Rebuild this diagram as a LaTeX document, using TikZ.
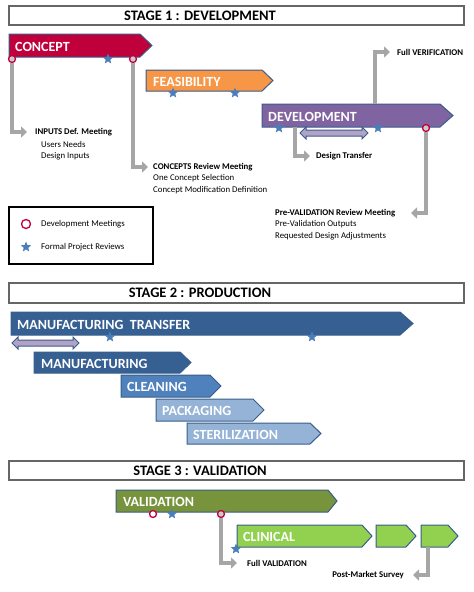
\documentclass[tikz,border=0pt]{standalone}
\usepackage{fontspec}
\setmainfont{Carlito}
\usetikzlibrary{shapes.geometric,shapes.arrows,arrows.meta}
\definecolor{bordblue}{HTML}{385D8A}
\definecolor{conceptred}{HTML}{C0003A}
\definecolor{feasorange}{HTML}{F79646}
\definecolor{devpurple}{HTML}{8064A2}
\definecolor{lightpurple}{HTML}{B3A2C7}
\definecolor{darkblue}{HTML}{376092}
\definecolor{midblue}{HTML}{4F81BD}
\definecolor{paleblue}{HTML}{95B3D7}
\definecolor{olivegreen}{HTML}{77933C}
\definecolor{lightgreen}{HTML}{92D050}
\definecolor{arrowgray}{HTML}{A6A6A6}
\definecolor{meetred}{HTML}{C00040}
\definecolor{starblue}{HTML}{4A7EBB}
\tikzset{
  stagebox/.style={draw=gray!80!black, line width=2pt},
  stagetext/.style={font=\bfseries\fontsize{14.5}{16}\selectfont},
  phasebox/.style={draw=bordblue, line width=1pt},
  phasetext/.style={anchor=west, text=white, inner sep=0pt, font=\bfseries\fontsize{14}{16}\selectfont},
  meeting/.style={circle, draw=meetred, line width=1.3pt, fill=arrowgray!60, minimum size=7pt, inner sep=0pt},
  review/.style={star, star points=5, star point ratio=2.3, fill=starblue, minimum size=11pt, inner sep=0pt},
  grayarrow/.style={draw=arrowgray, line width=4pt, -{Triangle[length=6pt,width=11pt]}},
  headtext/.style={anchor=west, inner sep=0pt, font=\bfseries\fontsize{8.8}{10}\selectfont},
  subtext/.style={anchor=west, inner sep=0pt, font=\fontsize{8.8}{10}\selectfont},
  transfer/.style={double arrow, draw=bordblue, fill=lightpurple, line width=1pt, inner xsep=0pt, inner ysep=2.5pt, double arrow head extend=3pt}
}
% phase bar: fill, left x, top y, tip start x, tip x, bottom y
\newcommand{\phasebar}[6]{\draw[phasebox,fill=#1] (#2,#3) -- (#4,#3) -- (#5,{(#3+#6)/2}) -- (#4,#6) -- (#2,#6) -- cycle;}
\begin{document}
\begin{tikzpicture}[x=1pt,y=-1pt]
\useasboundingbox (0,0) rectangle (474,592);

% stage 1 heading
\draw[stagebox] (9,6) rectangle (464,25);
\node[stagetext] (stage1) at (200,15.5) {STAGE 1 : DEVELOPMENT};

% phases of stage 1
\phasebar{conceptred}{9}{34}{140}{152}{57}
\node[phasetext] (concept) at (15,46.5) {CONCEPT};
\phasebar{feasorange}{146}{70}{262}{273}{91}
\node[phasetext] (feas) at (153,81.5) {FEASIBILITY};
\phasebar{devpurple}{262}{104}{440}{453}{127}
\node[phasetext] (devel) at (268,116.5) {DEVELOPMENT};

% meetings and reviews
\node[meeting] (m1) at (12,59) {};
\node[meeting] (m2) at (133,59) {};
\node[review] (r1) at (108,59) {};
\node[review] (r2) at (173,93) {};
\node[review] (r3) at (235,93) {};
\node[review] (r4) at (279,128) {};
\node[review] (r5) at (378,128) {};
\node[meeting] (m3) at (426,128) {};

% outputs of stage 1
\node[headtext] (inputs) at (35,132) {INPUTS Def. Meeting};
\node[subtext] (users) at (41,144) {Users Needs};
\node[subtext] (dinputs) at (41,156) {Design Inputs};
\node[headtext] (concrev) at (153,167) {CONCEPTS Review Meeting};
\node[subtext] (onesel) at (153,178) {One Concept Selection};
\node[subtext] (moddef) at (153,190) {Concept Modification Definition};
\node[headtext] (fullver) at (397,52) {Full VERIFICATION};
\node[headtext] (dtransfer) at (316,156) {Design Transfer};
\node[headtext] (prevalid) at (275,213) {Pre-VALIDATION Review Meeting};
\node[subtext] (preout) at (275,224.5) {Pre-Validation Outputs};
\node[subtext] (adjust) at (275,236) {Requested Design Adjustments};

\coordinate (dvtop) at (375,104);
\coordinate (dvbot) at (295,127);
\coordinate (prevend) at (411,213);
\draw[grayarrow, shorten >=8pt] (m1.south) |- (inputs.west);
\draw[grayarrow, shorten >=5pt] (m2.south) |- (concrev.west);
\draw[grayarrow, shorten >=7pt] (dvtop) |- (fullver.west);
\draw[grayarrow, shorten >=6pt] (dvbot) |- (dtransfer.west);
\draw[grayarrow] (m3.south) |- (prevend);
\node[transfer, minimum height=68pt] (dtarrow) at (334,133) {};

% legend
\draw[line width=2pt] (9,207) rectangle (153,264);
\node[meeting, fill=white, minimum size=9pt] (legm) at (26,224) {};
\node[subtext] (legmtext) at (41,224) {Development Meetings};
\node[review] (legr) at (26,247) {};
\node[subtext] (legrtext) at (41,247) {Formal Project Reviews};

% stage 2 heading
\draw[stagebox] (9,283) rectangle (464,303);
\node[stagetext] (stage2) at (200,293) {STAGE 2 : PRODUCTION};

% phases of stage 2
\phasebar{darkblue}{11}{312}{400}{413}{335}
\node[phasetext] (mtransfer) at (17,324.5) {MANUFACTURING\ \ TRANSFER};
\node[review] (r6) at (110,337) {};
\node[review] (r7) at (312,337) {};
\node[transfer, minimum height=67pt] (mtarrow) at (45.5,343) {};
\phasebar{darkblue}{34}{352}{180}{191}{373}
\node[phasetext] (manuf) at (41,363.5) {MANUFACTURING};
\phasebar{midblue}{121}{375}{210}{221}{397}
\node[phasetext] (clean) at (127,386.5) {CLEANING};
\phasebar{paleblue}{156}{399}{253}{264}{421}
\node[phasetext] (pack) at (162,410.5) {PACKAGING};
\phasebar{paleblue}{187}{423}{310}{321}{444}
\node[phasetext] (steril) at (193,434.5) {STERILIZATION};

% stage 3 heading
\draw[stagebox] (9,461) rectangle (464,480);
\node[stagetext] (stage3) at (200,470.5) {STAGE 3 : VALIDATION};

% phases of stage 3
\phasebar{olivegreen}{116}{490}{328}{337}{512}
\node[phasetext] (valid) at (123,501.5) {VALIDATION};
\node[meeting, fill=white] (m4) at (153,514) {};
\node[review] (r8) at (172,514) {};
\node[meeting] (m5) at (221,514) {};
\phasebar{lightgreen}{237}{525}{362}{372}{547}
\node[phasetext] (clinical) at (243,536.5) {CLINICAL};
\phasebar{lightgreen}{376}{525}{406}{416}{547}
\phasebar{lightgreen}{421}{525}{448}{458}{547}
\node[review] (r9) at (236,549) {};

% outputs of stage 3
\node[headtext] (fullval) at (247,563) {Full VALIDATION};
\node[headtext, anchor=east] (postmkt) at (404,575) {Post-Market Survey};
\coordinate (pmtop) at (428,547);
\draw[grayarrow, shorten >=10pt] (m5.south) |- (fullval.west);
\draw[grayarrow, shorten >=9pt] (pmtop) |- (postmkt.east);
\end{tikzpicture}
\end{document}
